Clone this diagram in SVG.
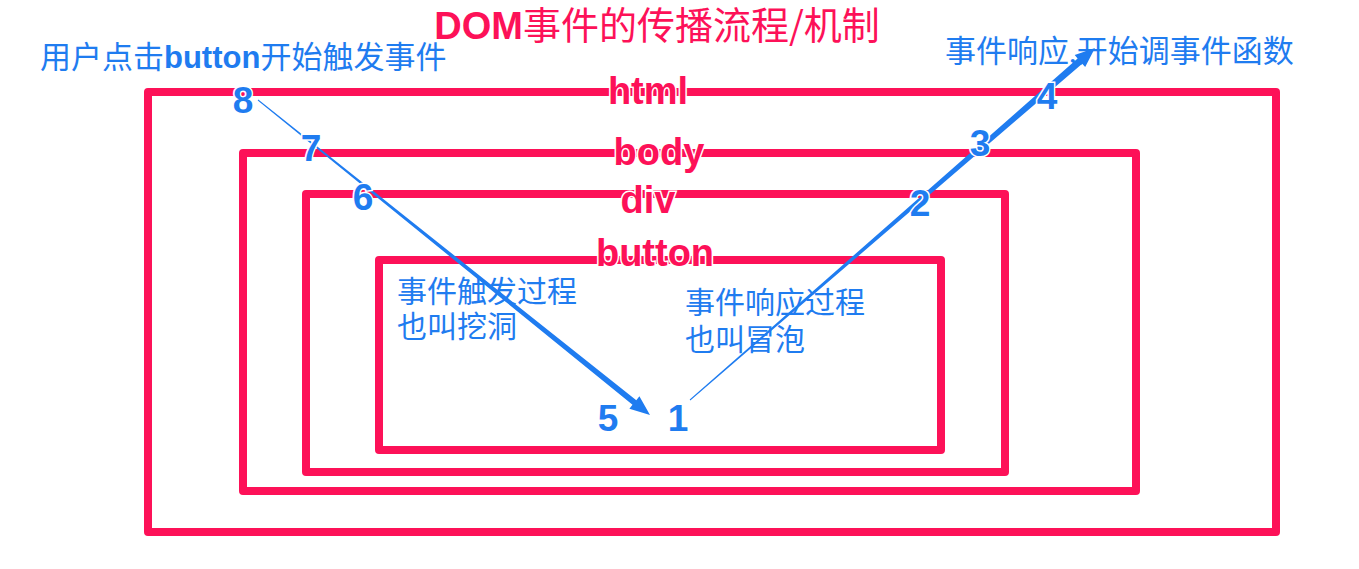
<svg xmlns="http://www.w3.org/2000/svg" width="1359" height="569" viewBox="0 0 1359 569">
<defs><style>
.box{fill:none;stroke:#fd1158;stroke-width:8;stroke-linejoin:round}
.lbl{font-family:"Liberation Sans",Arial,sans-serif;font-weight:bold;font-size:38px;fill:#fd1158;stroke:#fff;stroke-width:3;paint-order:stroke;text-anchor:middle}
.num{font-family:"Liberation Sans",Arial,sans-serif;font-weight:bold;font-size:37px;fill:#1f7cf0;stroke:#fff;stroke-width:3;paint-order:stroke;text-anchor:middle}
.cn{font-family:"Liberation Serif","Noto Sans CJK SC",serif;font-size:30px;fill:#1f7cf0;stroke:#fff;stroke-width:2;paint-order:stroke}
.arr{fill:#1f7cf0}
</style></defs>
<rect width="1359" height="569" fill="#fff"/>
<text x="657" y="39" class="lbl" style="font-size:38px">DOM<tspan style="font-family:'Noto Sans CJK SC',sans-serif;font-weight:normal">事件的传播流程/机制</tspan></text>
<g id="html"><rect class="box" x="148" y="92" width="1128" height="440"/><text class="lbl" x="648" y="104">html</text></g>
<g id="body"><rect class="box" x="243" y="153" width="893" height="338"/><text class="lbl" x="659" y="165">body</text></g>
<g id="div"><rect class="box" x="306" y="194" width="699" height="278"/><text class="lbl" x="648" y="213">div</text></g>
<g id="button"><rect class="box" x="379" y="260" width="562" height="190"/><text class="lbl" x="655" y="266">button</text></g>
<g id="texts">
<text class="cn" x="40" y="68" style="font-size:31px">用户点击<tspan style="font-family:'Liberation Sans',sans-serif;font-weight:bold">button</tspan>开始触发事件</text>
<text class="cn" x="945" y="62" style="font-size:31px">事件响应,开始调事件函数</text>
<text class="cn" x="397" y="302">事件触发过程</text>
<text class="cn" x="397" y="337">也叫挖洞</text>
<text class="cn" x="685" y="313">事件响应过程</text>
<text class="cn" x="685" y="350">也叫冒泡</text>
</g>
<g id="connectors">
<polygon class="arr" points="258.3,99.6 636.3,400.2 639.4,396.3 650,415 629.4,408.7 632.5,404.8 257.7,100.4"/>
<polygon class="arr" points="690.3,400.4 1082.2,63.7 1085.2,67.1 1095,48 1074.7,55.1 1077.6,58.5 689.7,399.6"/>
</g>
<g id="numbers">
<text class="num" x="243" y="113">8</text>
<text class="num" x="311" y="161">7</text>
<text class="num" x="363" y="210">6</text>
<text class="num" x="608" y="431">5</text>
<text class="num" x="678" y="431">1</text>
<text class="num" x="920" y="216">2</text>
<text class="num" x="980" y="156">3</text>
<text class="num" x="1047" y="109">4</text>
</g>
</svg>
